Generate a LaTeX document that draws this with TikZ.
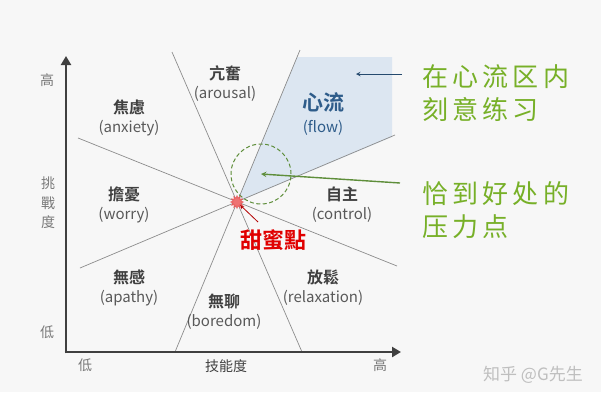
\documentclass[tikz,border=0pt]{standalone}
\usepackage{fontspec}
\usepackage{xcolor}
\usepackage{tikz}
\usetikzlibrary{shapes.geometric, arrows.meta}
\newfontfamily\cjk{Noto Sans CJK SC}[BoldFont={Noto Sans CJK SC Bold}]
\newfontfamily\cjkhand{Noto Sans CJK SC}[LetterSpace=16]
\definecolor{bggray}{HTML}{F7F7F7}
\definecolor{labgray}{HTML}{595959}
\definecolor{headgray}{HTML}{404040}
\definecolor{axisgray}{HTML}{404040}
\definecolor{linegray}{HTML}{8C8C8C}
\definecolor{flowfill}{HTML}{DCE6F1}
\definecolor{flowblue}{HTML}{2E5C8A}
\definecolor{tipgreen}{HTML}{5E8E3A}
\definecolor{notegreen}{HTML}{77B028}
\definecolor{sweetred}{HTML}{E00000}
\newcommand\zonehead[1]{{\color{headgray}\fontsize{16}{19}\selectfont\textbf{#1}}}

\begin{document}
\begin{tikzpicture}[x=1pt, y=-1pt, >=stealth,
  every node/.style={font=\cjk},
  zone/.style={align=center, text=labgray, font=\cjk\fontsize{15}{19}\selectfont},
  tick/.style={text=labgray!80, font=\cjk\fontsize{14}{16}\selectfont},
  note/.style={anchor=west, text=notegreen, font=\cjkhand\fontsize{26}{33}\selectfont, align=left},
  divider/.style={draw=linegray, line width=0.7pt},
  axis/.style={draw=axisgray, line width=2.6pt, -{Triangle[length=9pt, width=10pt]}}]
  \useasboundingbox (0,0) rectangle (601,400);
  \fill[bggray] (0,0) rectangle (601,392);
  \fill[white] (0,392) rectangle (601,400);

  % flow channel
  \coordinate (sp) at (237,202);
  \fill[flowfill] (sp) -- (297,57) -- (392,57) -- (392,137) -- cycle;

  % dividing lines through the sweet spot
  \coordinate (d1a) at (172,52);  \coordinate (d1b) at (302,352);
  \coordinate (d2a) at (300,50);  \coordinate (d2b) at (175,352);
  \coordinate (d3a) at (78,138);  \coordinate (d3b) at (397,266);
  \coordinate (d4a) at (80,268);  \coordinate (d4b) at (395,135);
  \draw[divider] (d1a) -- (d1b);
  \draw[divider] (d2a) -- (d2b);
  \draw[divider] (d3a) -- (d3b);
  \draw[divider] (d4a) -- (d4b);

  % axes
  \coordinate (origin) at (66,352);
  \coordinate (ytop) at (66,56);
  \coordinate (xend) at (401,352);
  \draw[axis] ([yshift=-1.3pt]origin) -- (ytop);
  \draw[axis] ([xshift=-1.3pt]origin) -- (xend);

  % axis labels
  \node[tick] (yhigh) at (47,80) {高};
  \node[tick, align=center, font=\cjk\fontsize{14}{19.5}\selectfont] (ylab) at (48,203) {挑\\戰\\度};
  \node[tick] (ylow) at (47,332) {低};
  \node[tick] (xlow) at (85,365) {低};
  \node[text=axisgray, font=\cjk\fontsize{14}{16}\selectfont] (xlab) at (226,366) {技能度};
  \node[tick] (xhigh) at (380,365) {高};

  % zones
  \node[zone] (arousal) at (225,84) {\zonehead{亢奮}\\(arousal)};
  \node[zone] (anxiety) at (129,118) {\zonehead{焦慮}\\(anxiety)};
  \node[zone] (worry) at (124,205) {\zonehead{擔憂}\\(worry)};
  \node[zone] (control) at (342,205) {\zonehead{自主}\\(control)};
  \node[zone] (apathy) at (129,288) {\zonehead{無感}\\(apathy)};
  \node[zone] (boredom) at (224,312) {\zonehead{無聊}\\(boredom)};
  \node[zone] (relax) at (323,288) {\zonehead{放鬆}\\(relaxation)};
  \node[align=center, text=flowblue, font=\cjk\fontsize{15}{22}\selectfont] (flow) at (323,114)
    {{\fontsize{21}{22}\selectfont\textbf{心流}}\\(flow)};

  % sweet spot
  \node[circle, draw=tipgreen, dash pattern=on 4pt off 2.5pt, line width=1pt, minimum size=60pt, inner sep=0pt] (zone) at (261,174) {};
  \node[star, star points=12, star point ratio=1.7, fill=sweetred!55, draw=sweetred!70,
    line width=0.4pt, minimum size=13pt, inner sep=0pt] (spot) at (sp) {};
  \node[text=sweetred, font=\cjk\fontsize{22}{24}\selectfont\bfseries] (sweet) at (273,240) {甜蜜點};
  \coordinate (rtail) at (258,222);
  \draw[->, sweetred!80!black, line width=0.8pt] (rtail) -- (spot);

  % notes
  \node[note] (note1) at (419,93) {在心流区内\\刻意练习};
  \node[note] (note2) at (419,210) {恰到好处的\\压力点};
  \coordinate (btail) at (402,74);
  \coordinate (bhead) at (356,74);
  \draw[->, flowblue!80!black, line width=1pt] (btail) -- (bhead);
  \coordinate (gtail) at (400,183);
  \draw[->, tipgreen, line width=1.4pt] (gtail) -- (zone.center);

  % watermark
  \node[text=black!25, font=\cjk\fontsize{17}{18}\selectfont] (mark) at (533,375) {知乎 @G先生};
\end{tikzpicture}
\end{document}
